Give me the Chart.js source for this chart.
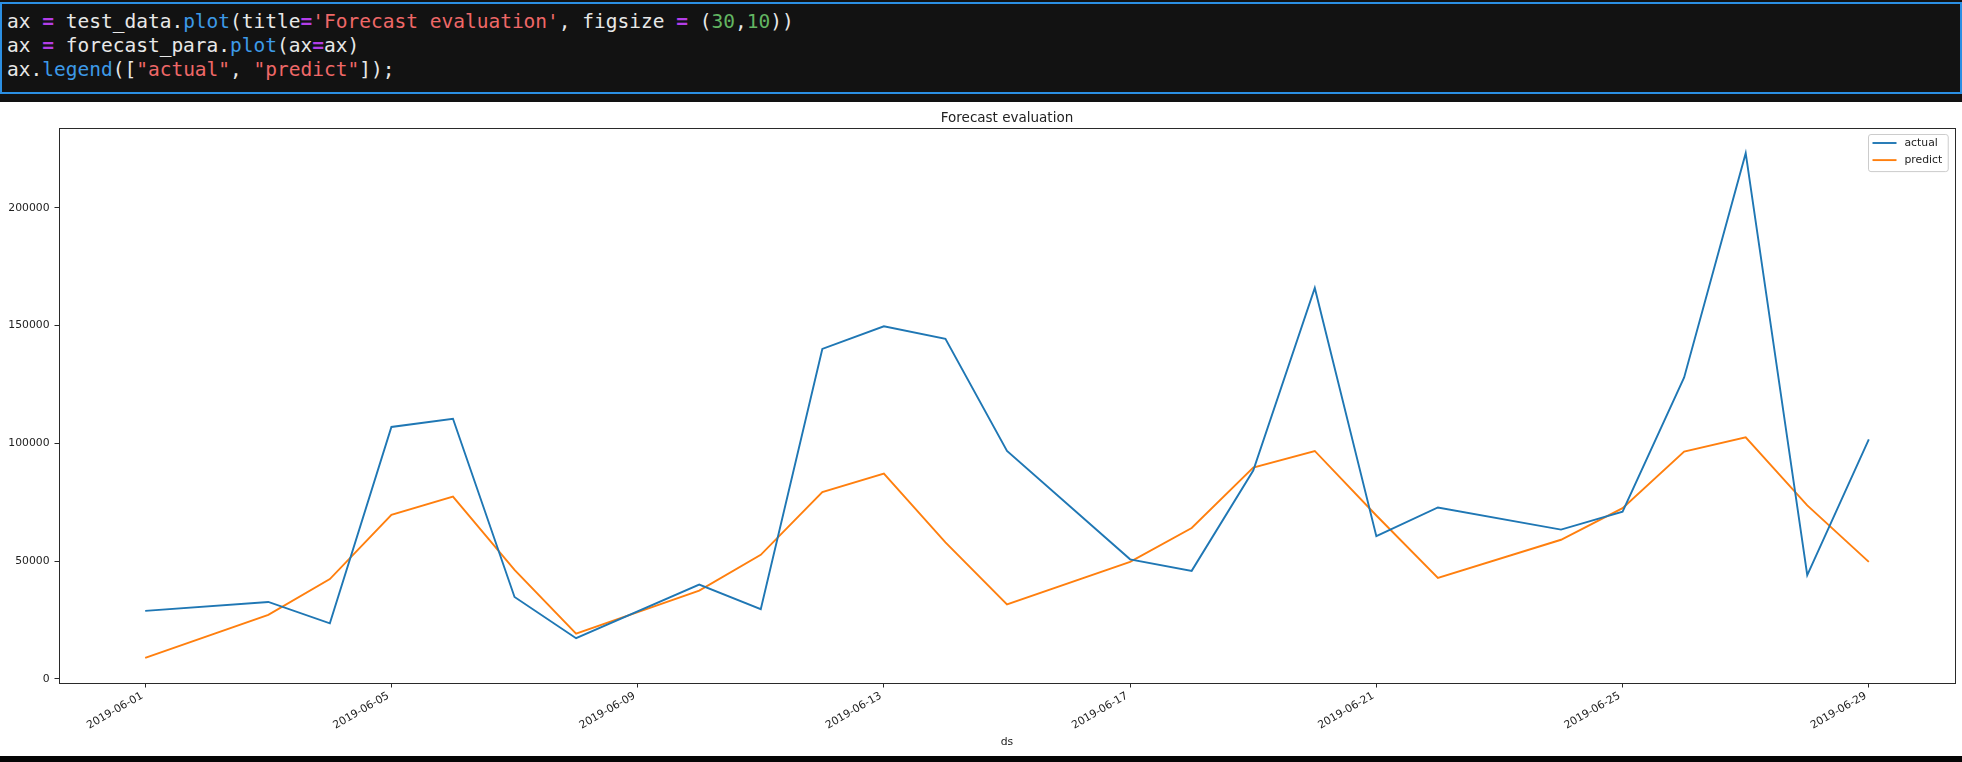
<!DOCTYPE html>
<html>
<head>
<meta charset="utf-8">
<script src="https://cdn.jsdelivr.net/npm/chart.js@4/dist/chart.umd.min.js"></script>
<style>
  html, body { margin:0; padding:0; background:#ffffff; width:1962px; height:762px; overflow:hidden; }
  #cell { position:absolute; left:0; top:0; width:1962px; height:102px; background:#121212; }
  #cellBorder { position:absolute; left:0; top:2px; width:1962px; height:92px; box-sizing:border-box; border:2px solid #2b8fe3; }
  #code { position:absolute; left:7px; top:10px; margin:0; font-family:"DejaVu Sans Mono", monospace; font-size:19.5px; line-height:23.8px; color:#e8e8e8; white-space:pre; }
  .p { color:#b43ee8; font-weight:bold; }
  .b { color:#3d9ae8; }
  .r { color:#ef6868; }
  .g { color:#62b562; }
  #wrap { position:absolute; left:0; top:102px; width:1962px; height:654px; background:#ffffff; }
  #bar { position:absolute; left:0; top:756px; width:1962px; height:6px; background:#050505; }
</style>
</head>
<body>
<div id="cell">
  <div id="cellBorder"></div>
<pre id="code">ax <span class="p">=</span> test_data.<span class="b">plot</span>(title<span class="p">=</span><span class="r">'Forecast evaluation'</span>, figsize <span class="p">=</span> (<span class="g">30</span>,<span class="g">10</span>))
ax <span class="p">=</span> forecast_para.<span class="b">plot</span>(ax<span class="p">=</span>ax)
ax.<span class="b">legend</span>([<span class="r">"actual"</span>, <span class="r">"predict"</span>]);</pre>
</div>
<div id="wrap"><canvas id="chart" width="1962" height="654"></canvas></div>
<div id="bar"></div>
<script>
// ---- data ----
const dates = ['2019-06-01','2019-06-03','2019-06-04','2019-06-05','2019-06-06','2019-06-07','2019-06-08',
  '2019-06-10','2019-06-11','2019-06-12','2019-06-13','2019-06-14','2019-06-15',
  '2019-06-17','2019-06-18','2019-06-19','2019-06-20','2019-06-21','2019-06-22',
  '2019-06-24','2019-06-25','2019-06-26','2019-06-27','2019-06-28','2019-06-29'];
const actual = [28900, 32700, 23600, 107000, 110500, 34800, 17300,
  40100, 29600, 140100, 149700, 144400, 96800,
  50800, 45900, 88500, 166000, 60600, 72800,
  63400, 71000, 128000, 223200, 44100, 101700];
const predict = [9000, 27200, 42400, 69700, 77400, 46300, 19200,
  37500, 52700, 79300, 87200, 58000, 31700,
  49700, 64100, 89700, 96800, 69400, 42900,
  59100, 72500, 96500, 102600, 73700, 49700];
const seriesNames = ['actual', 'predict'];
const xTickLabels = ['2019-06-01','2019-06-05','2019-06-09','2019-06-13','2019-06-17','2019-06-21','2019-06-25','2019-06-29'];
const yTickValues = [0, 50000, 100000, 150000, 200000];
const titleText = 'Forecast evaluation';
const xAxisTitle = 'ds';

// ---- helpers ----
const dayOf = s => Math.round((Date.parse(s) - Date.parse('2019-06-01')) / 864e5) + 1;
const xs = dates.map(dayOf);
const xMinD = Math.min(...xs), xMaxD = Math.max(...xs);
const xPad = (xMaxD - xMinD) * 0.05;
const allY = actual.concat(predict);
const yMinD = Math.min(...allY), yMaxD = Math.max(...allY);
const yPad = (yMaxD - yMinD) * 0.05;
const xTickMap = {};
xTickLabels.forEach(l => { xTickMap[dayOf(l)] = l; });

const FONT = 'DejaVu Sans';
const TXT = '#222222';

const framePlugin = {
  id: 'frame',
  afterDatasetsDraw(chart) {
    const {ctx, chartArea: a} = chart;
    ctx.save();
    ctx.strokeStyle = '#2a2a2a';
    ctx.lineWidth = 1;
    ctx.strokeRect(Math.round(a.left) + 0.5, Math.round(a.top) + 0.5, Math.round(a.right - a.left), Math.round(a.bottom - a.top));
    ctx.restore();
  },
  afterDraw(chart) {
    // matplotlib-style legend in the upper right corner of the axes
    const {ctx, chartArea: a} = chart;
    const ds = chart.data.datasets;
    ctx.save();
    ctx.font = '10.8px "' + FONT + '"';
    const textW = Math.max(...ds.map(d => ctx.measureText(d.label).width));
    const rowH = 17.1, padX = 4, handleLen = 24, gap = 8;
    const w = padX + handleLen + gap + textW + 6;
    const h = 8.5 + rowH * (ds.length - 1) + 11.5;
    const x0 = Math.round(a.right - 7 - w) + 0.5, y0 = Math.round(a.top + 6) + 0.5;
    ctx.fillStyle = 'rgba(255,255,255,0.8)';
    ctx.strokeStyle = '#cccccc';
    ctx.lineWidth = 1;
    ctx.beginPath();
    ctx.roundRect(x0, y0, w, h, 2.5);
    ctx.fill();
    ctx.stroke();
    ds.forEach((d, i) => {
      const y = y0 + 8.5 + i * rowH;
      ctx.strokeStyle = d.borderColor;
      ctx.lineWidth = d.borderWidth;
      ctx.beginPath();
      ctx.moveTo(x0 + padX, y);
      ctx.lineTo(x0 + padX + handleLen, y);
      ctx.stroke();
      ctx.fillStyle = TXT;
      ctx.textBaseline = 'middle';
      ctx.textAlign = 'left';
      ctx.fillText(d.label, x0 + padX + handleLen + gap, y + 0.5);
    });
    ctx.restore();
  }
};

new Chart(document.getElementById('chart'), {
  type: 'line',
  data: {
    datasets: [
      { label: seriesNames[0], data: xs.map((x, i) => ({x, y: actual[i]})), borderColor: '#1f77b4', backgroundColor: '#1f77b4', borderWidth: 1.9, pointRadius: 0, tension: 0, fill: false },
      { label: seriesNames[1], data: xs.map((x, i) => ({x, y: predict[i]})), borderColor: '#ff7f0e', backgroundColor: '#ff7f0e', borderWidth: 1.9, pointRadius: 0, tension: 0, fill: false }
    ]
  },
  options: {
    responsive: false,
    animation: false,
    devicePixelRatio: 1,
    layout: { padding: { left: 0, right: 7, top: 7.9, bottom: 0 } },
    plugins: {
      legend: { display: false },
      tooltip: { enabled: false },
      title: {
        display: true, text: titleText, color: TXT, fullSize: false,
        font: { family: FONT, size: 13.5, weight: 'normal', lineHeight: 1.2 },
        padding: { top: 0, bottom: 1.9 }
      }
    },
    scales: {
      x: {
        type: 'linear',
        min: xMinD - xPad, max: xMaxD + xPad,
        afterFit(scale) { scale.height = 73; },
        afterBuildTicks(scale) { scale.ticks = xTickLabels.map(l => ({ value: dayOf(l) })); },
        ticks: {
          autoSkip: false, minRotation: 30, maxRotation: 30, padding: 2, labelOffset: -3,
          color: TXT, font: { family: FONT, size: 10.8 },
          callback: v => xTickMap[v] || ''
        },
        grid: { display: true, drawOnChartArea: false, drawTicks: true, tickLength: 4.5, tickColor: '#2a2a2a', tickWidth: 1 },
        border: { display: true, color: '#2a2a2a', width: 1 },
        title: { display: true, text: xAxisTitle, color: TXT, font: { family: FONT, size: 10.8, lineHeight: 1.2 }, padding: { top: 0, bottom: 7.8 } }
      },
      y: {
        type: 'linear',
        min: yMinD - yPad, max: yMaxD + yPad,
        afterFit(scale) { scale.width = 59; },
        afterBuildTicks(scale) { scale.ticks = yTickValues.map(v => ({ value: v })); },
        ticks: {
          autoSkip: false, padding: 5,
          color: TXT, font: { family: FONT, size: 10.8 },
          callback: v => String(v)
        },
        grid: { display: true, drawOnChartArea: false, drawTicks: true, tickLength: 4.5, tickColor: '#2a2a2a', tickWidth: 1 },
        border: { display: true, color: '#2a2a2a', width: 1 }
      }
    }
  },
  plugins: [framePlugin]
});
</script>
</body>
</html>
